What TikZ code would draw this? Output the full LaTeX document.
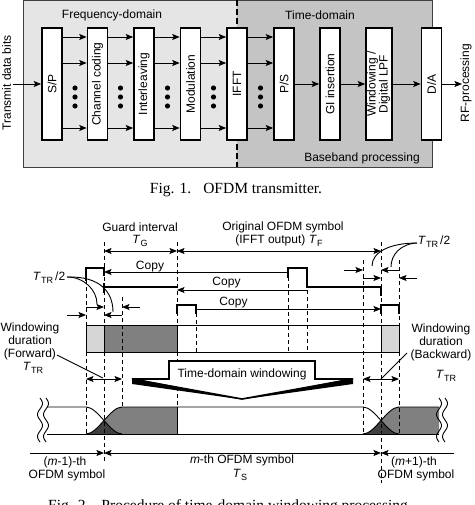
\documentclass[tikz,border=0pt]{standalone}
\usepackage{fontspec}
\setmainfont{Liberation Sans}
\newfontfamily\capfont{Liberation Serif}
\usetikzlibrary{arrows.meta}
\definecolor{boxl}{gray}{0.90}
\definecolor{boxr}{gray}{0.77}
\definecolor{barl}{gray}{0.84}
\definecolor{bard}{gray}{0.50}
\definecolor{darkw}{gray}{0.25}
\newcommand{\Tsub}[1]{\textit{T}\kern0.3pt\raisebox{-3pt}{\fontsize{9}{9}\selectfont #1}}
\def\xA{86}\def\xB{104}\def\xC{122}\def\xD{177}\def\xE{196}
\def\xF{288}\def\xG{307}\def\xH{363}\def\xI{381}\def\xJ{399}
\begin{document}
\begin{tikzpicture}[x=1pt,y=-1pt,
  font=\fontsize{12}{13.5}\selectfont,
  blk/.style={draw, line width=1.6pt, fill=white, minimum width=20pt, minimum height=112pt, inner sep=0pt},
  arr/.style={-{Stealth[length=7.5pt,width=6pt,inset=1.5pt]}, line width=0.9pt},
  darr/.style={{Stealth[length=7.5pt,width=6pt,inset=1.5pt]}-{Stealth[length=7.5pt,width=6pt,inset=1.5pt]}, line width=0.9pt},
  thn/.style={line width=0.9pt},
  dsh/.style={line width=0.9pt, dash pattern=on 4pt off 3pt},
  pul/.style={line width=2.4pt, line join=miter, line cap=rect},
  capstyle/.style={font=\capfont\fontsize{15.5}{17}\selectfont},
]
\useasboundingbox (0,0) rectangle (474,505);
\fill[white] (0,0) rectangle (474,505);

% ---------------- Fig. 1 ----------------
\fill[boxl] (23,0.5) rectangle (237,167);
\fill[boxr] (237,0.5) rectangle (432,167);
\draw[line width=1pt, black!75] (23,0.5) rectangle (432,167);
\draw[line width=2.5pt, dash pattern=on 6pt off 3pt] (237,0) -- (237,167);
\node (fd) at (112,15) {Frequency-domain};
\node (td) at (320,15) {Time-domain};
\node (bb) at (362,158) {Baseband processing};

\node[blk] (sp) at (52,84) {\rotatebox{90}{S/P}};
\node[blk] (cc) at (97.5,84) {\rotatebox{90}{Channel coding}};
\node[blk] (il) at (144,84) {\rotatebox{90}{Interleaving}};
\node[blk] (md) at (190.5,84) {\rotatebox{90}{Modulation}};
\node[blk] (ifft) at (237,84) {\rotatebox{90}{IFFT}};
\node[blk] (ps) at (284,84) {\rotatebox{90}{P/S}};
\node[blk] (gi) at (330,84) {\rotatebox{90}{GI insertion}};
\node[blk, minimum width=26pt] (win) at (379,84) {\rotatebox{90}{\fontsize{12}{11.5}\selectfont\begin{tabular}{@{}c@{}}Windowing /\\Digital LPF\end{tabular}}};
\node[blk] (da) at (431.5,84) {\rotatebox{90}{D/A}};

\coordinate (r1) at (0,37);
\coordinate (r2) at (0,63);
\coordinate (r3) at (0,128);
\coordinate (in) at (13,84);
\coordinate (out) at (462,84);
\foreach \p/\q in {sp/cc, cc/il, il/md, md/ifft, ifft/ps}{
  \foreach \r in {r1,r2,r3}{
    \draw[arr] (\p.east |- \r) -- (\q.west |- \r);
  }
}
\foreach \x in {75,120.5,167.5,213.5,260.5}{
  \foreach \y in {88,97,106}{
    \fill (\x,\y) circle (2.6pt);
  }
}
\draw[arr] (in) -- (sp.west);
\draw[arr] (ps.east) -- (gi.west);
\draw[arr] (gi.east) -- (win.west);
\draw[arr] (win.east) -- (da.west);
\draw[arr] (da.east) -- (out);
\node[rotate=90] (tdb) at (6.5,83) {Transmit data bits};
\node[rotate=90] (rf) at (466,83) {RF-processing};

\node[capstyle, anchor=base] (cap1) at (236,193) {Fig. 1.\hspace{12pt}OFDM transmitter.};

% ---------------- Fig. 2 ----------------
% fills
\fill[barl] (\xA,325) rectangle (\xB,352);
\fill[bard] (\xB,325) rectangle (\xD,352);
\fill[barl] (\xI,325) rectangle (\xJ,352);
\fill[bard] (86,434) .. controls (98,434) and (110,407) .. (122,407) -- (177,407) -- (177,434) -- cycle;
\fill[bard] (363,434) .. controls (375,434) and (387,407) .. (399,407) -- (439,407) -- (439,434) -- cycle;
\fill[darkw] (86,434) .. controls (92,434) and (98,427.25) .. (104,420.5) .. controls (110,427.25) and (116,434) .. (122,434) -- cycle;
\fill[darkw] (363,434) .. controls (369,434) and (375,427.25) .. (381,420.5) .. controls (387,427.25) and (393,434) .. (399,434) -- cycle;

% dashed guides
\draw[dsh] (\xA,280) -- (\xA,325);
\draw[dsh] (\xA,352) -- (\xA,434);
\draw[dsh] (\xB,242) -- (\xB,325);
\draw[dsh] (\xB,352) -- (\xB,463);
\draw[dsh] (\xC,297) -- (\xC,407);
\draw[dsh] (\xD,242) -- (\xD,325);
\draw[dsh] (\xD,352) -- (\xD,407);
\draw[dsh] (\xE,313) -- (\xE,352);
\draw[dsh] (\xF,277) -- (\xF,352);
\draw[dsh] (\xG,290) -- (\xG,352);
\draw[dsh] (\xH,260) -- (\xH,434);
\draw[dsh] (\xI,242) -- (\xI,483);
\draw[dsh] (\xJ,260) -- (\xJ,325);
\draw[dsh] (\xJ,352) -- (\xJ,434);

% bars outline
\draw[thn] (\xA,325) rectangle (\xJ,352);
\draw[thn] (\xB,325) -- (\xB,352);
\draw[thn] (\xD,325) -- (\xD,352);
\draw[thn] (\xI,325) -- (\xI,352);

% waveform outline
\draw[thn] (47,407) -- (86,407) .. controls (98,407) and (110,434) .. (122,434);
\draw[thn] (86,434) .. controls (98,434) and (110,407) .. (122,407) -- (363,407) .. controls (375,407) and (387,434) .. (399,434);
\draw[thn] (363,434) .. controls (375,434) and (387,407) .. (399,407) -- (439,407);
\draw[thn] (47,434) -- (439,434);
\draw[thn] (177,407) -- (177,434);
\foreach \sx in {40,46,439,445}{
  \draw[thn] plot[smooth, domain=0:44, samples=31, variable=\t] ({\sx+2.5*sin(\t*360/22)},{398+\t});
}

% big arrow
\filldraw[fill=white, line width=1.6pt, line join=miter] (169,361) -- (315,361) -- (315,379) -- (353,379) -- (242,399) -- (132,379) -- (169,379) -- cycle;
\draw[line width=2.6pt, line join=miter] (169,361) -- (315,361) -- (315,379) -- (353,379);
\fill (132,378) -- (242,399.5) -- (132,384) -- cycle;
\fill (353,378) -- (242,399.5) -- (353,384) -- cycle;
\node (tdw) at (242,374) {Time-domain windowing};

% pulses
\draw[pul] (\xA,280) -- (\xA,268) -- (\xB,268) -- (\xB,275);
\draw[pul] (\xB,284) -- (\xB,292);
\draw[pul] (\xB,287) -- (\xD,287);
\draw[pul] (\xF,277) -- (\xF,268) -- (\xG,268) -- (\xG,287) -- (\xI,287) -- (\xI,295);
\draw[pul] (\xD,313) -- (\xD,305) -- (\xE,305) -- (\xE,313);
\draw[pul] (\xI,313) -- (\xI,305) -- (\xJ,305) -- (\xJ,313);

% copy arrows
\draw[arr] (\xF,272) -- (\xB,272);
\draw[arr] (\xG,290) -- (\xD,290);
\draw[arr] (\xE,309) -- (\xI,309);
\node[anchor=base] (cp1) at (150,269.5) {Copy};
\node[anchor=base] (cp2) at (226.5,285.5) {Copy};
\node[anchor=base] (cp3) at (233.5,305.5) {Copy};

% interval arrows
\draw[darr] (\xB,251) -- (\xD,251);
\draw[darr] (\xD,251) -- (\xI,251);
\node (gil) at (140,227) {Guard interval};
\node (tg) at (140,241) {\Tsub{G}};
\node (osl) at (283,227) {Original OFDM symbol};
\node (tf) at (279,241) {(IFFT output) \Tsub{F}};

% T_TR/2 dimension arrows
\draw[arr] (\xA,307) -- (\xB,307);
\draw[arr] (140,307) -- (\xC,307);
\draw[arr] (67,315) -- (\xA,315);
\draw[arr] (\xC,315) -- (\xB,315);
\draw[arr] (344,270) -- (\xH,270);
\draw[arr] (\xJ,270) -- (\xI,270);
\draw[arr] (\xH,278) -- (\xI,278);
\draw[arr] (417,278) -- (\xJ,278);
\node (ttrl) at (49,278) {\Tsub{TR}\,/2};
\node (ttrr) at (434,242) {\Tsub{TR}\,/2};
\draw[thn] (67,277) .. controls (84,277) and (97,290) .. (97,304);
\draw[thn] (67,277) .. controls (100,276) and (113,292) .. (113,312);
\draw[thn] (417,243) .. controls (390,243) and (372,252) .. (372,266);
\draw[thn] (417,243) .. controls (400,244) and (391,255) .. (391,267);

% windowing duration
\draw[darr] (\xA,379) -- (\xC,379);
\draw[darr] (\xH,379) -- (\xJ,379);
\node[align=center, font=\fontsize{12}{13}\selectfont] (wdf) at (30,341) {Windowing\\duration\\(Forward)};
\node[align=center, font=\fontsize{12}{13}\selectfont] (wdb) at (441,342) {Windowing\\duration\\(Backward)};
\node (ttr1) at (33,368) {\Tsub{TR}};
\node (ttr2) at (446,376) {\Tsub{TR}};
\draw[thn] (57,355) -- (103,378);
\draw[thn] (407,353) -- (381,379);

% symbol axis
\draw[arr] (30,453) -- (\xB,453);
\draw[darr] (\xB,453) -- (\xI,453);
\draw[arr] (454,453) -- (\xI,453);
\node (mm1) at (65,462) {(\textit{m}-1)-th};
\node (os1) at (67,475) {OFDM symbol};
\node (mth) at (242,460) {\textit{m}-th OFDM symbol};
\node (ts) at (240,475) {\Tsub{S}};
\node (mp1) at (414,462) {(\textit{m}+1)-th};
\node (os3) at (416,475) {OFDM symbol};

\node[capstyle, anchor=base] (cap2) at (230,510) {Fig. 2.\hspace{12pt}Procedure of time-domain windowing processing.};
\end{tikzpicture}
\end{document}
